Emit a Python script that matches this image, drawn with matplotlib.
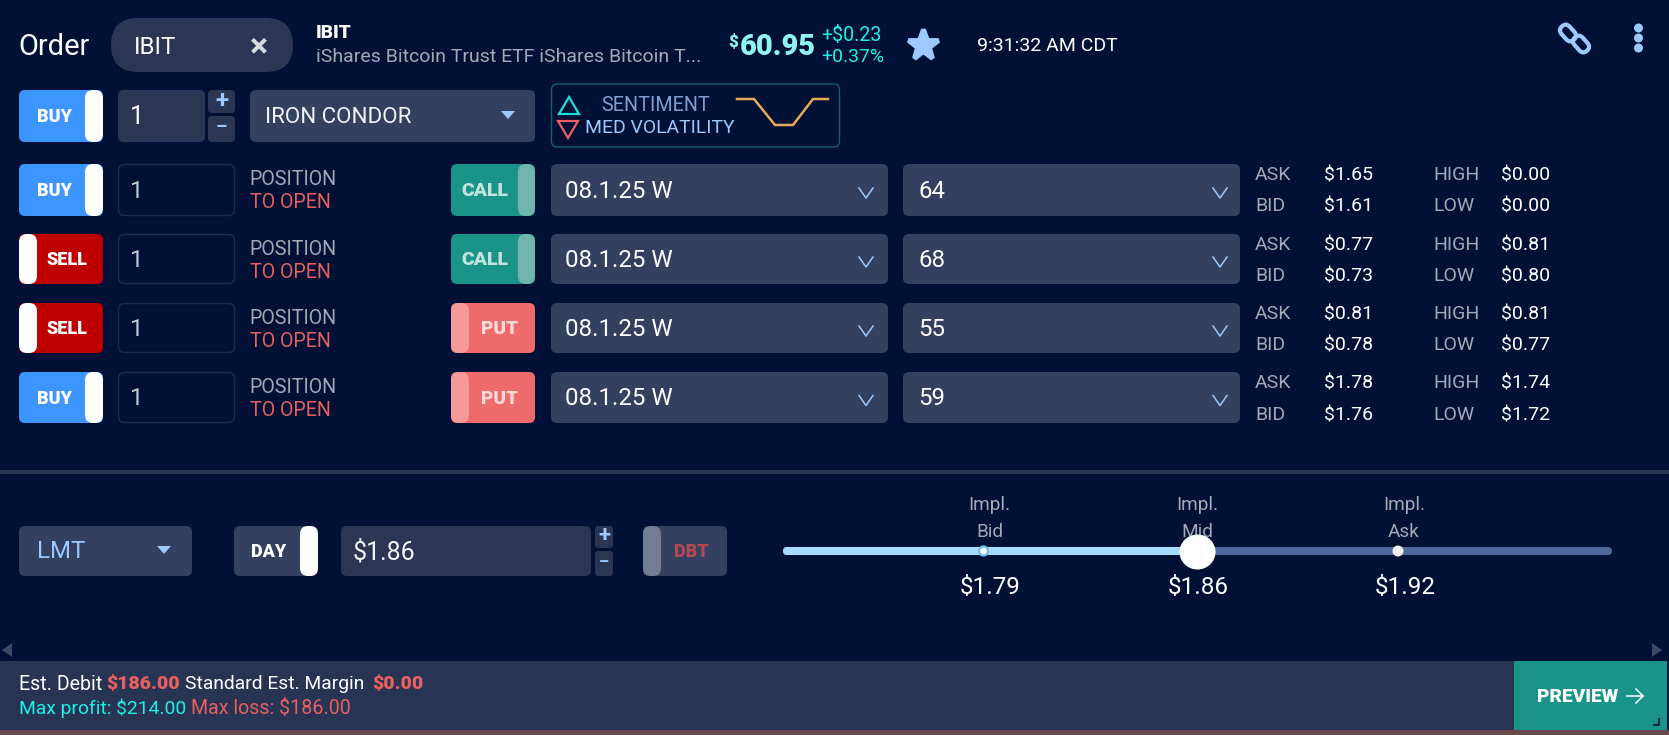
import matplotlib
matplotlib.use("Agg")
import matplotlib.pyplot as plt
from matplotlib.patches import FancyBboxPatch, Polygon, Rectangle, Ellipse
from matplotlib.transforms import Affine2D

plt.rcParams['font.family'] = ['Roboto', 'DejaVu Sans']

# ---- content ----
symbol = "IBIT"
company = "iShares Bitcoin Trust ETF iShares Bitcoin T..."
price = "60.95"
change = "+$0.23"
change_pct = "+0.37%"
clock = "9:31:32 AM CDT"
strategy = "IRON CONDOR"
sides = ["BUY", "SELL", "SELL", "BUY"]
quantities = ["1", "1", "1", "1"]
rights = ["CALL", "CALL", "PUT", "PUT"]
expiries = ["08.1.25 W"] * 4
strikes = ["64", "68", "55", "59"]
asks = ["$1.65", "$0.77", "$0.81", "$1.78"]
bids = ["$1.61", "$0.73", "$0.78", "$1.76"]
highs = ["$0.00", "$0.81", "$0.81", "$1.74"]
lows = ["$0.00", "$0.80", "$0.77", "$1.72"]
impl_names = ["Bid", "Mid", "Ask"]
impl_values = ["$1.79", "$1.86", "$1.92"]
limit_price = "$1.86"

# ---- palette ----
BG = "#001135"; BOX = "#344060"; BOX2 = "#2a3654"; BLUE = "#3d96ff"; RED = "#bf0000"
TEAL = "#1a9488"; TEAL_T = "#70b6ae"; CORAL = "#ee6b6b"; CORAL_T = "#f59a97"
LIGHT = "#9cc9ff"; GREY = "#a3a9b6"; CYAN = "#1ef0e6"; SALMON = "#e8605f"; WHITE = "#ffffff"
BLACK_W = 900

fig = plt.figure(figsize=(16.69, 7.35), dpi=100, facecolor=BG)
ax = fig.add_axes([0, 0, 1, 1])
ax.set_xlim(0, 1669); ax.set_ylim(735, 0); ax.axis("off")


def box(x0, y0, x1, y1, color, r=6, ec="none", lw=0, z=2, fill=True):
    r = min(r, (x1 - x0) / 2, (y1 - y0) / 2)
    p = FancyBboxPatch((x0 + r, y0 + r), x1 - x0 - 2 * r, y1 - y0 - 2 * r,
                       boxstyle=f"round,pad={r},rounding_size={r}",
                       fc=color if fill else "none", ec=ec, lw=lw, zorder=z)
    ax.add_patch(p)
    return p


def t(x, y, s, px, color=WHITE, weight="normal", ha="left", z=5):
    return ax.text(x, y, s, fontsize=px * 0.72, color=color, fontweight=weight,
                   ha=ha, va="center", zorder=z)


def chevron(x, y):
    ax.plot([x - 7, x, x + 7], [y - 5, y + 5, y - 5], color=LIGHT, lw=1.1, zorder=4)


def caret(x, y):
    ax.add_patch(Polygon([(x - 7, y - 4), (x + 7, y - 4), (x, y + 4)], fc=LIGHT, ec="none", zorder=4))


def side_toggle(top, bot, side):
    if side == "BUY":
        box(19, top, 103, bot, BLUE)
        box(85, top, 103, bot, WHITE, r=8, z=3)
        t(54, (top + bot) / 2 + 1, side, 18, WHITE, BLACK_W, "center")
    else:
        box(19, top, 103, bot, RED)
        box(19, top, 37, bot, WHITE, r=8, z=3)
        t(67, (top + bot) / 2 + 1, side, 18, WHITE, BLACK_W, "center")


# ---- header ----
t(18.5, 47, "Order", 29)
box(111, 18, 293, 72, BOX2, r=27)
t(134, 47, symbol, 24)
t(259, 47, "×", 34, "#d6dae2", "bold", "center")
t(316, 33, symbol, 19, WHITE, BLACK_W)
t(316, 57, company, 19.5, GREY)
t(728, 42, "$", 17, "#8ff5f0", BLACK_W)
t(740, 47, price, 29, "#8ff5f0", BLACK_W)
t(821, 35, change, 19.6, CYAN)
t(821, 57, change_pct, 19.4, CYAN)
ax.plot([923], [45], marker="*", ms=23, color=LIGHT, mec=LIGHT, mew=3.5, mfc=LIGHT, zorder=4)
t(977, 46, clock, 19.5)

# link icon
for cx, cy in [(1568, 33), (1581, 44)]:
    tr = Affine2D().rotate_deg_around(cx, cy, 48) + ax.transData
    p = FancyBboxPatch((cx - 5, cy - 1.5), 10, 3, boxstyle="round,pad=4,rounding_size=5.5",
                       fc="none", ec=LIGHT, lw=3.0, zorder=4)
    p.set_transform(tr)
    ax.add_patch(p)
for dy in (28, 38, 48):
    ax.add_patch(Ellipse((1638.5, dy), 9, 9, fc=LIGHT, ec="none", zorder=4))

# ---- strategy row ----
side_toggle(90, 142, "BUY")
box(118, 90, 205, 142, BOX2)
t(130, 117, quantities[0], 25)
box(208, 90, 235, 113, BOX2, r=4)
box(208, 116, 235, 142, BOX2, r=4)
t(221.5, 101, "+", 24, LIGHT, "bold", "center")
t(221.5, 127, "–", 18, LIGHT, "bold", "center")
box(250, 90, 535, 142, BOX)
t(265, 117, strategy, 22.4, "#f2f4f8")
caret(508, 115)

box(551.5, 84, 839.5, 147, "none", ec="#155f6c", lw=1.0, fill=False)
ax.add_patch(Polygon([(569, 97), (579, 114), (559, 114)], fc="none", ec="#1ee0d8", lw=1.6, zorder=4))
ax.add_patch(Polygon([(558, 121), (578, 121), (568, 138)], fc="none", ec=SALMON, lw=1.6, zorder=4))
t(601, 105, "SENTIMENT", 19.8, "#7f9fd0")
t(585, 128, "MED VOLATILITY", 19.4, LIGHT)
ax.plot([737, 754, 775, 793, 813, 828], [99, 99, 125, 125, 99, 99], color="#e7a95b", lw=1.8, zorder=4)

# ---- legs ----
rows = [(164, 216), (234, 284), (303, 353), (372, 423)]
ask_y = [175, 245, 314, 383]
bid_y = [206, 276, 345, 415]
for i, (top, bot) in enumerate(rows):
    mid = (top + bot) / 2
    side_toggle(top, bot, sides[i])
    box(118.5, top + 0.5, 234.5, bot - 0.5, "none", ec="#1c2a4c", lw=1.1, fill=False)
    t(130, mid + 1, quantities[i], 24, "#c4cad6")
    t(249.5, top + 15, "POSITION", 19.6, GREY)
    t(249.5, top + 38, "TO OPEN", 19.6, SALMON)
    if rights[i] == "CALL":
        box(451, top, 535, bot, TEAL)
        box(518, top, 535, bot, TEAL_T, r=8, z=3)
        t(485, mid + 1, rights[i], 19.5, "#c4e3df", BLACK_W, "center")
    else:
        box(451, top, 535, bot, CORAL)
        box(451, top, 469, bot, CORAL_T, r=8, z=3)
        t(499, mid + 1, rights[i], 19, "#fbdcda", BLACK_W, "center")
    box(551, top, 888, bot, BOX)
    t(565, mid + 1, expiries[i], 24)
    chevron(866, mid + 3)
    box(903, top, 1240, bot, BOX)
    t(918, mid + 1, strikes[i], 24)
    chevron(1220, mid + 3)
    t(1255, ask_y[i], "ASK", 19.5, GREY)
    t(1255, bid_y[i], "BID", 19.5, GREY)
    t(1324, ask_y[i], asks[i], 19.5)
    t(1324, bid_y[i], bids[i], 19.5)
    t(1433, ask_y[i], "HIGH", 19.5, GREY)
    t(1433, bid_y[i], "LOW", 19.5, GREY)
    t(1501, ask_y[i], highs[i], 19.5)
    t(1501, bid_y[i], lows[i], 19.5)

ax.add_patch(Rectangle((0, 470), 1669, 4, fc=BOX2, ec="none", zorder=1))

# ---- order row ----
box(19, 526, 192, 576, BOX)
t(37, 552, "LMT", 24, LIGHT)
caret(164, 550)
box(234, 526, 318, 576, BOX)
box(300, 526, 318, 576, WHITE, r=8, z=3)
t(269, 552, "DAY", 18, WHITE, BLACK_W, "center")
box(341, 526, 591, 576, BOX2)
t(353, 552, limit_price, 25, "#f2f4f8")
box(595, 526, 613, 548, BOX2, r=3)
box(595, 551, 613, 576, BOX2, r=3)
t(604, 536, "+", 22, LIGHT, "bold", "center")
t(604, 562, "–", 16, LIGHT, "bold", "center")
box(643, 526, 727, 576, BOX)
box(643, 526, 661, 576, "#737c94", r=8, z=3)
t(691, 552, "DBT", 18, "#b4474f", BLACK_W, "center")

# ---- slider ----
box(783, 547, 1612, 555, "#4d6a9a", r=4, z=2)
box(783, 547, 1197, 555, "#a6dcfb", r=4, z=3)
ax.add_patch(Ellipse((1197.5, 552), 36, 35, fc=WHITE, ec="none", zorder=7))
ax.add_patch(Ellipse((983.5, 551), 9, 9, fc=WHITE, ec="#6cc1f2", lw=1.6, zorder=6))
ax.add_patch(Ellipse((1398, 551), 11, 11, fc="#f2f2f2", ec="none", zorder=6))
for x, name, val in zip([989.5, 1197, 1404], impl_names, impl_values):
    t(x, 505, "Impl.", 19, GREY, ha="center")
    t(x, 532, name, 19, GREY, ha="center")
    t(x + 1, 587, val, 24.3, WHITE, ha="center")

# scroll arrows
ax.add_patch(Polygon([(2, 650), (12, 643), (12, 657)], fc="#3d4866", ec="none", zorder=3))
ax.add_patch(Polygon([(1662, 650), (1652, 643), (1652, 657)], fc="#3d4866", ec="none", zorder=3))

# ---- footer ----
ax.add_patch(Rectangle((0, 661), 1667, 69, fc="#283454", ec="none", zorder=1))
ax.add_patch(Rectangle((0, 730), 1669, 5, fc="#6a4a50", ec="none", zorder=1))
ax.add_patch(Rectangle((1514, 661), 153, 69, fc=TEAL, ec="none", zorder=2))
t(19, 684, "Est. Debit", 19.6)
t(106.5, 684, "$186.00", 19.5, SALMON, BLACK_W)
t(185, 684, "Standard Est. Margin", 19.3)
t(372, 684, "$0.00", 19.5, SALMON, BLACK_W)
t(19, 708, "Max profit: $214.00", 19.3, CYAN)
t(191, 708, "Max loss: $186.00", 19.7, SALMON)
t(1537, 697, "PREVIEW", 19.2, WHITE, BLACK_W)
ax.plot([1627, 1643], [696, 696], color=WHITE, lw=1.1, zorder=5)
ax.plot([1636, 1643, 1636], [689, 696, 703], color=WHITE, lw=1.1, zorder=5)
ax.plot([1654, 1659, 1659], [725, 725, 719], color="#0a2c44", lw=1.5, zorder=5)

fig.savefig("out.png", dpi=100, facecolor=BG)
